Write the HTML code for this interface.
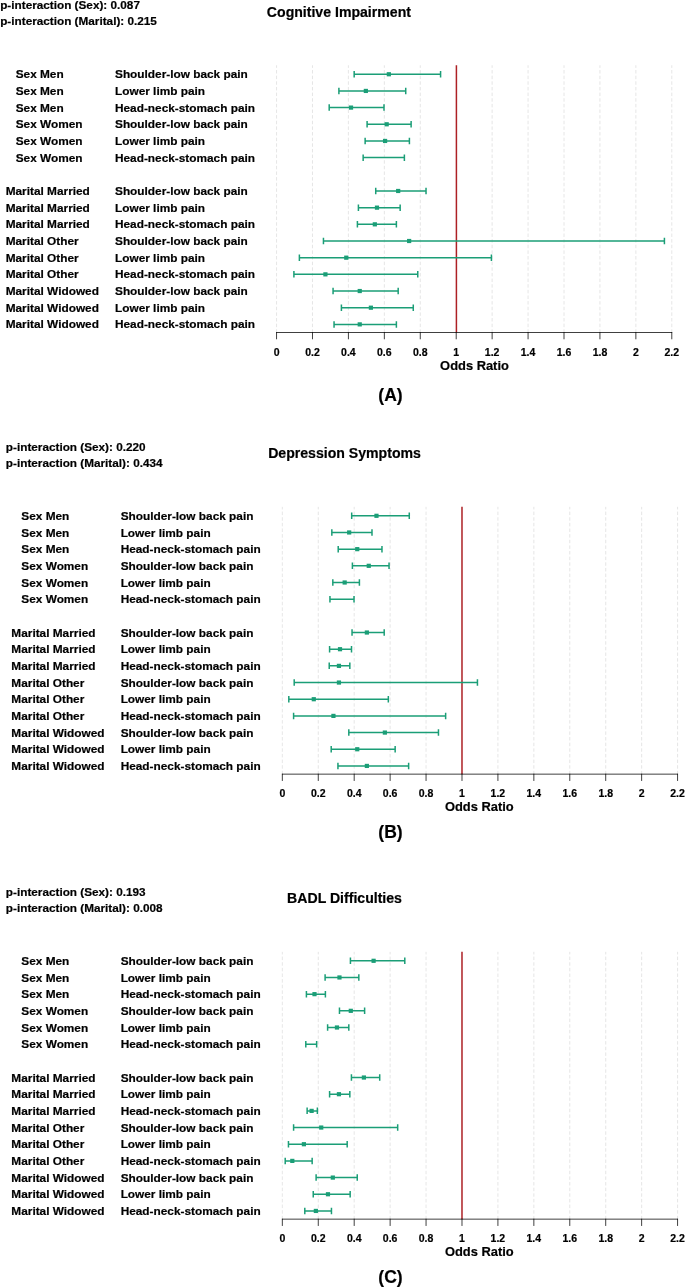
<!DOCTYPE html>
<html lang="en"><head><meta charset="utf-8"><title>Forest plots</title>
<style>
html,body{margin:0;padding:0;background:#fff}
svg{display:block}
text{font-family:"Liberation Sans",sans-serif;font-weight:bold;fill:#000;stroke:#000;stroke-width:0.2px;stroke-linejoin:round}
.l{font-size:11.83px}
.p{font-size:11.75px}
.t{font-size:14.1px;text-anchor:middle}
.k{font-size:10.5px;text-anchor:middle}
.o{font-size:12.9px;text-anchor:middle}
.g{font-size:17.5px;text-anchor:middle}
.gr{stroke:#dfdfdf;stroke-width:0.8;stroke-dasharray:3.48 2.156;stroke-dashoffset:0.9;fill:none}
.ci{stroke:#1B9E77;stroke-width:1.5;fill:none}
.m{fill:#1B9E77}
.ax{stroke:#000;stroke-width:0.75;fill:none;stroke-linejoin:round;stroke-linecap:round}
.rl{stroke:#AD2025;stroke-width:1.5}
</style></head>
<body>
<svg width="685" height="1287" viewBox="0 0 685 1287">
<rect width="685" height="1287" fill="#fff"/>
<g>
<text class="l p" x="0.2" y="9.2">p-interaction (Sex): 0.087</text>
<text class="l p" x="0.2" y="25">p-interaction (Marital): 0.215</text>
<text class="t" x="338.9" y="16.7">Cognitive Impairment</text>
<line class="gr" x1="276.56" y1="65.3" x2="276.56" y2="332.5"/>
<line class="gr" x1="312.49" y1="65.3" x2="312.49" y2="332.5"/>
<line class="gr" x1="348.42" y1="65.3" x2="348.42" y2="332.5"/>
<line class="gr" x1="384.35" y1="65.3" x2="384.35" y2="332.5"/>
<line class="gr" x1="420.28" y1="65.3" x2="420.28" y2="332.5"/>
<line class="gr" x1="492.14" y1="65.3" x2="492.14" y2="332.5"/>
<line class="gr" x1="528.07" y1="65.3" x2="528.07" y2="332.5"/>
<line class="gr" x1="564" y1="65.3" x2="564" y2="332.5"/>
<line class="gr" x1="599.93" y1="65.3" x2="599.93" y2="332.5"/>
<line class="gr" x1="635.86" y1="65.3" x2="635.86" y2="332.5"/>
<line class="gr" x1="671.79" y1="65.3" x2="671.79" y2="332.5"/>
<line class="rl" x1="456.41" y1="65.2" x2="456.41" y2="332.5"/>
<text class="l" x="15.7" y="78.3">Sex Men</text>
<text class="l" x="115" y="78.3">Shoulder-low back pain</text>
<path class="ci" d="M354.17 74.25H440.58M354.17 71V77.5M440.58 71V77.5"/>
<rect class="m" x="386.74" y="72.15" width="4.2" height="4.2"/>
<text class="l" x="15.7" y="94.97">Sex Men</text>
<text class="l" x="115" y="94.97">Lower limb pain</text>
<path class="ci" d="M338.9 90.92H405.73M338.9 87.67V94.17M405.73 87.67V94.17"/>
<rect class="m" x="363.75" y="88.83" width="4.2" height="4.2"/>
<text class="l" x="15.7" y="111.65">Sex Men</text>
<text class="l" x="115" y="111.65">Head-neck-stomach pain</text>
<path class="ci" d="M329.2 107.6H383.99M329.2 104.35V110.85M383.99 104.35V110.85"/>
<rect class="m" x="348.92" y="105.5" width="4.2" height="4.2"/>
<text class="l" x="15.7" y="128.33">Sex Women</text>
<text class="l" x="115" y="128.33">Shoulder-low back pain</text>
<path class="ci" d="M367.1 124.28H411.12M367.1 121.03V127.53M411.12 121.03V127.53"/>
<rect class="m" x="384.59" y="122.18" width="4.2" height="4.2"/>
<text class="l" x="15.7" y="145">Sex Women</text>
<text class="l" x="115" y="145">Lower limb pain</text>
<path class="ci" d="M365.13 140.95H409.41M365.13 137.7V144.2M409.41 137.7V144.2"/>
<rect class="m" x="382.97" y="138.85" width="4.2" height="4.2"/>
<text class="l" x="15.7" y="161.68">Sex Women</text>
<text class="l" x="115" y="161.68">Head-neck-stomach pain</text>
<path class="ci" d="M363.15 157.62H404.38M363.15 154.38V160.88M404.38 154.38V160.88"/>
<text class="l" x="5.7" y="195.03">Marital Married</text>
<text class="l" x="115" y="195.03">Shoulder-low back pain</text>
<path class="ci" d="M375.73 190.98H426.03M375.73 187.73V194.23M426.03 187.73V194.23"/>
<rect class="m" x="396.08" y="188.88" width="4.2" height="4.2"/>
<text class="l" x="5.7" y="211.7">Marital Married</text>
<text class="l" x="115" y="211.7">Lower limb pain</text>
<path class="ci" d="M358.41 207.65H400.16M358.41 204.4V210.9M400.16 204.4V210.9"/>
<rect class="m" x="374.88" y="205.55" width="4.2" height="4.2"/>
<text class="l" x="5.7" y="228.38">Marital Married</text>
<text class="l" x="115" y="228.38">Head-neck-stomach pain</text>
<path class="ci" d="M357.4 224.33H396.39M357.4 221.08V227.58M396.39 221.08V227.58"/>
<rect class="m" x="372.73" y="222.23" width="4.2" height="4.2"/>
<text class="l" x="5.7" y="245.05">Marital Other</text>
<text class="l" x="115" y="245.05">Shoulder-low back pain</text>
<path class="ci" d="M323.45 241H664.42M323.45 237.75V244.25M664.42 237.75V244.25"/>
<rect class="m" x="407.04" y="238.9" width="4.2" height="4.2"/>
<text class="l" x="5.7" y="261.73">Marital Other</text>
<text class="l" x="115" y="261.73">Lower limb pain</text>
<path class="ci" d="M299.38 257.68H491.42M299.38 254.43V260.93M491.42 254.43V260.93"/>
<rect class="m" x="344.16" y="255.58" width="4.2" height="4.2"/>
<text class="l" x="5.7" y="278.4">Marital Other</text>
<text class="l" x="115" y="278.4">Head-neck-stomach pain</text>
<path class="ci" d="M293.91 274.35H417.76M293.91 271.1V277.6M417.76 271.1V277.6"/>
<rect class="m" x="323.32" y="272.25" width="4.2" height="4.2"/>
<text class="l" x="5.7" y="295.08">Marital Widowed</text>
<text class="l" x="115" y="295.08">Shoulder-low back pain</text>
<path class="ci" d="M333.06 291.03H398.18M333.06 287.78V294.28M398.18 287.78V294.28"/>
<rect class="m" x="357.64" y="288.93" width="4.2" height="4.2"/>
<text class="l" x="5.7" y="311.75">Marital Widowed</text>
<text class="l" x="115" y="311.75">Lower limb pain</text>
<path class="ci" d="M341.41 307.7H413.27M341.41 304.45V310.95M413.27 304.45V310.95"/>
<rect class="m" x="368.78" y="305.6" width="4.2" height="4.2"/>
<text class="l" x="5.7" y="328.43">Marital Widowed</text>
<text class="l" x="115" y="328.43">Head-neck-stomach pain</text>
<path class="ci" d="M334.05 324.38H396.39M334.05 321.13V327.63M396.39 321.13V327.63"/>
<rect class="m" x="357.64" y="322.28" width="4.2" height="4.2"/>
<path class="ax" d="M276.56 332.5H671.79M276.56 332.5V338.9M312.49 332.5V338.9M348.42 332.5V338.9M384.35 332.5V338.9M420.28 332.5V338.9M456.21 332.5V338.9M492.14 332.5V338.9M528.07 332.5V338.9M564 332.5V338.9M599.93 332.5V338.9M635.86 332.5V338.9M671.79 332.5V338.9"/>
<text class="k" x="276.56" y="356">0</text>
<text class="k" x="312.49" y="356">0.2</text>
<text class="k" x="348.42" y="356">0.4</text>
<text class="k" x="384.35" y="356">0.6</text>
<text class="k" x="420.28" y="356">0.8</text>
<text class="k" x="456.21" y="356">1</text>
<text class="k" x="492.14" y="356">1.2</text>
<text class="k" x="528.07" y="356">1.4</text>
<text class="k" x="564" y="356">1.6</text>
<text class="k" x="599.93" y="356">1.8</text>
<text class="k" x="635.86" y="356">2</text>
<text class="k" x="671.79" y="356">2.2</text>
<text class="o" x="474.5" y="370">Odds Ratio</text>
<text class="g" x="390.5" y="400.8">(A)</text>
</g>
<g>
<text class="l p" x="5.85" y="450.75">p-interaction (Sex): 0.220</text>
<text class="l p" x="5.85" y="466.55">p-interaction (Marital): 0.434</text>
<text class="t" x="344.55" y="458.25">Depression Symptoms</text>
<line class="gr" x1="282.34" y1="506.85" x2="282.34" y2="774.15"/>
<line class="gr" x1="318.27" y1="506.85" x2="318.27" y2="774.15"/>
<line class="gr" x1="354.2" y1="506.85" x2="354.2" y2="774.15"/>
<line class="gr" x1="390.13" y1="506.85" x2="390.13" y2="774.15"/>
<line class="gr" x1="426.06" y1="506.85" x2="426.06" y2="774.15"/>
<line class="gr" x1="497.92" y1="506.85" x2="497.92" y2="774.15"/>
<line class="gr" x1="533.85" y1="506.85" x2="533.85" y2="774.15"/>
<line class="gr" x1="569.78" y1="506.85" x2="569.78" y2="774.15"/>
<line class="gr" x1="605.71" y1="506.85" x2="605.71" y2="774.15"/>
<line class="gr" x1="641.64" y1="506.85" x2="641.64" y2="774.15"/>
<line class="gr" x1="677.57" y1="506.85" x2="677.57" y2="774.15"/>
<line class="rl" x1="461.99" y1="506.75" x2="461.99" y2="774.15"/>
<text class="l" x="21.35" y="519.85">Sex Men</text>
<text class="l" x="120.65" y="519.85">Shoulder-low back pain</text>
<path class="ci" d="M351.68 515.8H409.28M351.68 512.55V519.05M409.28 512.55V519.05"/>
<rect class="m" x="374.38" y="513.7" width="4.2" height="4.2"/>
<text class="l" x="21.35" y="536.52">Sex Men</text>
<text class="l" x="120.65" y="536.52">Lower limb pain</text>
<path class="ci" d="M331.83 532.47H371.99M331.83 529.22V535.72M371.99 529.22V535.72"/>
<rect class="m" x="347.07" y="530.37" width="4.2" height="4.2"/>
<text class="l" x="21.35" y="553.2">Sex Men</text>
<text class="l" x="120.65" y="553.2">Head-neck-stomach pain</text>
<path class="ci" d="M338.21 549.15H381.97M338.21 545.9V552.4M381.97 545.9V552.4"/>
<rect class="m" x="355.15" y="547.05" width="4.2" height="4.2"/>
<text class="l" x="21.35" y="569.87">Sex Women</text>
<text class="l" x="120.65" y="569.87">Shoulder-low back pain</text>
<path class="ci" d="M352.4 565.82H389.05M352.4 562.57V569.07M389.05 562.57V569.07"/>
<rect class="m" x="366.65" y="563.72" width="4.2" height="4.2"/>
<text class="l" x="21.35" y="586.55">Sex Women</text>
<text class="l" x="120.65" y="586.55">Lower limb pain</text>
<path class="ci" d="M332.82 582.5H359.41M332.82 579.25V585.75M359.41 579.25V585.75"/>
<rect class="m" x="342.58" y="580.4" width="4.2" height="4.2"/>
<text class="l" x="21.35" y="603.22">Sex Women</text>
<text class="l" x="120.65" y="603.22">Head-neck-stomach pain</text>
<path class="ci" d="M329.95 599.17H354.02M329.95 595.92V602.42M354.02 595.92V602.42"/>
<text class="l" x="11.35" y="636.57">Marital Married</text>
<text class="l" x="120.65" y="636.57">Shoulder-low back pain</text>
<path class="ci" d="M352.04 632.52H384.2M352.04 629.27V635.77M384.2 629.27V635.77"/>
<rect class="m" x="364.77" y="630.42" width="4.2" height="4.2"/>
<text class="l" x="11.35" y="653.25">Marital Married</text>
<text class="l" x="120.65" y="653.25">Lower limb pain</text>
<path class="ci" d="M329.59 649.2H351.51M329.59 645.95V652.45M351.51 645.95V652.45"/>
<rect class="m" x="337.91" y="647.1" width="4.2" height="4.2"/>
<text class="l" x="11.35" y="669.92">Marital Married</text>
<text class="l" x="120.65" y="669.92">Head-neck-stomach pain</text>
<path class="ci" d="M329.23 665.87H349.83M329.23 662.62V669.12M349.83 662.62V669.12"/>
<rect class="m" x="336.83" y="663.77" width="4.2" height="4.2"/>
<text class="l" x="11.35" y="686.6">Marital Other</text>
<text class="l" x="120.65" y="686.6">Shoulder-low back pain</text>
<path class="ci" d="M294.2 682.55H477.44M294.2 679.3V685.8M477.44 679.3V685.8"/>
<rect class="m" x="336.83" y="680.45" width="4.2" height="4.2"/>
<text class="l" x="11.35" y="703.27">Marital Other</text>
<text class="l" x="120.65" y="703.27">Lower limb pain</text>
<path class="ci" d="M288.81 699.22H388.33M288.81 695.97V702.47M388.33 695.97V702.47"/>
<rect class="m" x="311.68" y="697.12" width="4.2" height="4.2"/>
<text class="l" x="11.35" y="719.95">Marital Other</text>
<text class="l" x="120.65" y="719.95">Head-neck-stomach pain</text>
<path class="ci" d="M293.59 715.9H445.64M293.59 712.65V719.15M445.64 712.65V719.15"/>
<rect class="m" x="331.33" y="713.8" width="4.2" height="4.2"/>
<text class="l" x="11.35" y="736.62">Marital Widowed</text>
<text class="l" x="120.65" y="736.62">Shoulder-low back pain</text>
<path class="ci" d="M348.81 732.57H438.46M348.81 729.32V735.82M438.46 729.32V735.82"/>
<rect class="m" x="382.77" y="730.47" width="4.2" height="4.2"/>
<text class="l" x="11.35" y="753.3">Marital Widowed</text>
<text class="l" x="120.65" y="753.3">Lower limb pain</text>
<path class="ci" d="M331.2 749.25H395.16M331.2 746V752.5M395.16 746V752.5"/>
<rect class="m" x="355.15" y="747.15" width="4.2" height="4.2"/>
<text class="l" x="11.35" y="769.97">Marital Widowed</text>
<text class="l" x="120.65" y="769.97">Head-neck-stomach pain</text>
<path class="ci" d="M337.94 765.92H408.63M337.94 762.67V769.17M408.63 762.67V769.17"/>
<rect class="m" x="364.77" y="763.82" width="4.2" height="4.2"/>
<path class="ax" d="M282.34 774.15H677.57M282.34 774.15V780.55M318.27 774.15V780.55M354.2 774.15V780.55M390.13 774.15V780.55M426.06 774.15V780.55M461.99 774.15V780.55M497.92 774.15V780.55M533.85 774.15V780.55M569.78 774.15V780.55M605.71 774.15V780.55M641.64 774.15V780.55M677.57 774.15V780.55"/>
<text class="k" x="282.34" y="797">0</text>
<text class="k" x="318.27" y="797">0.2</text>
<text class="k" x="354.2" y="797">0.4</text>
<text class="k" x="390.13" y="797">0.6</text>
<text class="k" x="426.06" y="797">0.8</text>
<text class="k" x="461.99" y="797">1</text>
<text class="k" x="497.92" y="797">1.2</text>
<text class="k" x="533.85" y="797">1.4</text>
<text class="k" x="569.78" y="797">1.6</text>
<text class="k" x="605.71" y="797">1.8</text>
<text class="k" x="641.64" y="797">2</text>
<text class="k" x="677.57" y="797">2.2</text>
<text class="o" x="479.3" y="811">Odds Ratio</text>
<text class="g" x="390.5" y="837.5">(B)</text>
</g>
<g>
<text class="l p" x="5.85" y="895.75">p-interaction (Sex): 0.193</text>
<text class="l p" x="5.85" y="911.55">p-interaction (Marital): 0.008</text>
<text class="t" x="344.55" y="903.25">BADL Difficulties</text>
<line class="gr" x1="282.34" y1="951.85" x2="282.34" y2="1219.15"/>
<line class="gr" x1="318.27" y1="951.85" x2="318.27" y2="1219.15"/>
<line class="gr" x1="354.2" y1="951.85" x2="354.2" y2="1219.15"/>
<line class="gr" x1="390.13" y1="951.85" x2="390.13" y2="1219.15"/>
<line class="gr" x1="426.06" y1="951.85" x2="426.06" y2="1219.15"/>
<line class="gr" x1="497.92" y1="951.85" x2="497.92" y2="1219.15"/>
<line class="gr" x1="533.85" y1="951.85" x2="533.85" y2="1219.15"/>
<line class="gr" x1="569.78" y1="951.85" x2="569.78" y2="1219.15"/>
<line class="gr" x1="605.71" y1="951.85" x2="605.71" y2="1219.15"/>
<line class="gr" x1="641.64" y1="951.85" x2="641.64" y2="1219.15"/>
<line class="gr" x1="677.57" y1="951.85" x2="677.57" y2="1219.15"/>
<line class="rl" x1="461.99" y1="951.75" x2="461.99" y2="1219.15"/>
<text class="l" x="21.35" y="964.85">Sex Men</text>
<text class="l" x="120.65" y="964.85">Shoulder-low back pain</text>
<path class="ci" d="M350.43 960.8H404.79M350.43 957.55V964.05M404.79 957.55V964.05"/>
<rect class="m" x="371.5" y="958.7" width="4.2" height="4.2"/>
<text class="l" x="21.35" y="981.52">Sex Men</text>
<text class="l" x="120.65" y="981.52">Lower limb pain</text>
<path class="ci" d="M325.1 977.47H358.83M325.1 974.22V980.72M358.83 974.22V980.72"/>
<rect class="m" x="337.37" y="975.37" width="4.2" height="4.2"/>
<text class="l" x="21.35" y="998.2">Sex Men</text>
<text class="l" x="120.65" y="998.2">Head-neck-stomach pain</text>
<path class="ci" d="M306.41 994.15H325.4M306.41 990.9V997.4M325.4 990.9V997.4"/>
<rect class="m" x="312.4" y="992.05" width="4.2" height="4.2"/>
<text class="l" x="21.35" y="1014.87">Sex Women</text>
<text class="l" x="120.65" y="1014.87">Shoulder-low back pain</text>
<path class="ci" d="M339.47 1010.82H364.62M339.47 1007.57V1014.07M364.62 1007.57V1014.07"/>
<rect class="m" x="348.69" y="1008.72" width="4.2" height="4.2"/>
<text class="l" x="21.35" y="1031.55">Sex Women</text>
<text class="l" x="120.65" y="1031.55">Lower limb pain</text>
<path class="ci" d="M327.61 1027.5H348.81M327.61 1024.25V1030.75M348.81 1024.25V1030.75"/>
<rect class="m" x="334.85" y="1025.4" width="4.2" height="4.2"/>
<text class="l" x="21.35" y="1048.22">Sex Women</text>
<text class="l" x="120.65" y="1048.22">Head-neck-stomach pain</text>
<path class="ci" d="M305.8 1044.17H316.65M305.8 1040.92V1047.42M316.65 1040.92V1047.42"/>
<text class="l" x="11.35" y="1081.57">Marital Married</text>
<text class="l" x="120.65" y="1081.57">Shoulder-low back pain</text>
<path class="ci" d="M351.43 1077.52H379.71M351.43 1074.27V1080.77M379.71 1074.27V1080.77"/>
<rect class="m" x="361.8" y="1075.42" width="4.2" height="4.2"/>
<text class="l" x="11.35" y="1098.25">Marital Married</text>
<text class="l" x="120.65" y="1098.25">Lower limb pain</text>
<path class="ci" d="M329.59 1094.2H349.83M329.59 1090.95V1097.45M349.83 1090.95V1097.45"/>
<rect class="m" x="336.83" y="1092.1" width="4.2" height="4.2"/>
<text class="l" x="11.35" y="1114.92">Marital Married</text>
<text class="l" x="120.65" y="1114.92">Head-neck-stomach pain</text>
<path class="ci" d="M307.13 1110.88H317.37M307.13 1107.62V1114.12M317.37 1107.62V1114.12"/>
<rect class="m" x="309.52" y="1108.78" width="4.2" height="4.2"/>
<text class="l" x="11.35" y="1131.6">Marital Other</text>
<text class="l" x="120.65" y="1131.6">Shoulder-low back pain</text>
<path class="ci" d="M293.59 1127.55H397.68M293.59 1124.3V1130.8M397.68 1124.3V1130.8"/>
<rect class="m" x="319.13" y="1125.45" width="4.2" height="4.2"/>
<text class="l" x="11.35" y="1148.27">Marital Other</text>
<text class="l" x="120.65" y="1148.27">Lower limb pain</text>
<path class="ci" d="M288.45 1144.22H347.19M288.45 1140.97V1147.47M347.19 1140.97V1147.47"/>
<rect class="m" x="301.8" y="1142.12" width="4.2" height="4.2"/>
<text class="l" x="11.35" y="1164.95">Marital Other</text>
<text class="l" x="120.65" y="1164.95">Head-neck-stomach pain</text>
<path class="ci" d="M285.21 1160.9H312.16M285.21 1157.65V1164.15M312.16 1157.65V1164.15"/>
<rect class="m" x="290.21" y="1158.8" width="4.2" height="4.2"/>
<text class="l" x="11.35" y="1181.62">Marital Widowed</text>
<text class="l" x="120.65" y="1181.62">Shoulder-low back pain</text>
<path class="ci" d="M316.11 1177.58H357.25M316.11 1174.33V1180.83M357.25 1174.33V1180.83"/>
<rect class="m" x="330.72" y="1175.48" width="4.2" height="4.2"/>
<text class="l" x="11.35" y="1198.3">Marital Widowed</text>
<text class="l" x="120.65" y="1198.3">Lower limb pain</text>
<path class="ci" d="M313.24 1194.25H350.16M313.24 1191V1197.5M350.16 1191V1197.5"/>
<rect class="m" x="325.87" y="1192.15" width="4.2" height="4.2"/>
<text class="l" x="11.35" y="1214.97">Marital Widowed</text>
<text class="l" x="120.65" y="1214.97">Head-neck-stomach pain</text>
<path class="ci" d="M304.8 1210.92H331.46M304.8 1207.67V1214.17M331.46 1207.67V1214.17"/>
<rect class="m" x="313.76" y="1208.83" width="4.2" height="4.2"/>
<path class="ax" d="M282.34 1219.15H677.57M282.34 1219.15V1225.55M318.27 1219.15V1225.55M354.2 1219.15V1225.55M390.13 1219.15V1225.55M426.06 1219.15V1225.55M461.99 1219.15V1225.55M497.92 1219.15V1225.55M533.85 1219.15V1225.55M569.78 1219.15V1225.55M605.71 1219.15V1225.55M641.64 1219.15V1225.55M677.57 1219.15V1225.55"/>
<text class="k" x="282.34" y="1242">0</text>
<text class="k" x="318.27" y="1242">0.2</text>
<text class="k" x="354.2" y="1242">0.4</text>
<text class="k" x="390.13" y="1242">0.6</text>
<text class="k" x="426.06" y="1242">0.8</text>
<text class="k" x="461.99" y="1242">1</text>
<text class="k" x="497.92" y="1242">1.2</text>
<text class="k" x="533.85" y="1242">1.4</text>
<text class="k" x="569.78" y="1242">1.6</text>
<text class="k" x="605.71" y="1242">1.8</text>
<text class="k" x="641.64" y="1242">2</text>
<text class="k" x="677.57" y="1242">2.2</text>
<text class="o" x="479.3" y="1256">Odds Ratio</text>
<text class="g" x="390.5" y="1283">(C)</text>
</g>
</svg>
</body></html>
